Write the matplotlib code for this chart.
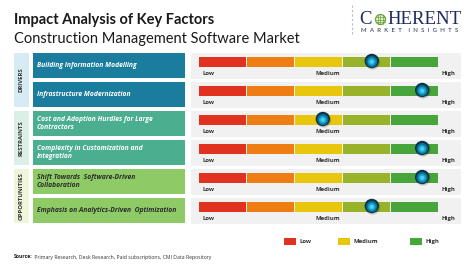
import matplotlib
matplotlib.use("Agg")
import matplotlib.pyplot as plt
from matplotlib.patches import Rectangle, Circle

# ---------------- data ----------------
factors = [
    "Building Information Modelling",
    "Infrastructure Modernization",
    "Cost and Adoption Hurdles for Large\nContractors",
    "Complexity in Customization and\nIntegration",
    "Shift Towards  Software-Driven\nCollaboration",
    "Emphasis on Analytics-Driven  Optimization",
]
groups = ["DRIVERS", "DRIVERS", "RESTRAINTS", "RESTRAINTS", "OPPORTUNITIES", "OPPORTUNITIES"]
impact = [3.6, 4.65, 2.58, 4.65, 4.65, 3.6]          # position on 0..5 scale
scale_labels = ["Low", "Medium", "High"]
legend_labels = ["Low", "Medium", "High"]

group_names = ["DRIVERS", "RESTRAINTS", "OPPORTUNITIES"]
group_row_color = {"DRIVERS": "#1b7d9e", "RESTRAINTS": "#4aae8f", "OPPORTUNITIES": "#8ecb66"}
group_bg_color = {"DRIVERS": "#d7ebf5", "RESTRAINTS": "#dcefe6", "OPPORTUNITIES": "#eef5da"}
group_text_color = {"DRIVERS": "white", "RESTRAINTS": "white", "OPPORTUNITIES": "#2b2b2b"}
seg_colors = ["#e0321f", "#ee7d14", "#e8c60e", "#98b32a", "#47a53c"]
legend_colors = ["#e0321f", "#e8c60e", "#47a53c"]

W, H = 474, 266
fig = plt.figure(figsize=(W / 100, H / 100), dpi=100)
ax = fig.add_axes([0, 0, 1, 1])
ax.set_xlim(0, W)
ax.set_ylim(H, 0)
ax.axis("off")
fig.patch.set_facecolor("white")

FONT = "Lato"

# titles
ax.text(14, 20, "Impact Analysis of Key Factors", fontsize=10.5, fontweight="bold",
        family=FONT, color="#1a1a1a", va="center", ha="left")
ax.text(14, 39.5, "Construction Management Software Market", fontsize=10.5,
        family=FONT, color="#1a1a1a", va="center", ha="left")

# logo
ax.plot([352, 352], [5, 36], color="#bbbbbb", lw=0.8, ls=(0, (2, 2)))
ax.text(359, 20, "C", fontsize=13.5, family="Liberation Serif", color="#1f2a5a",
        va="center", ha="left")
cx, cy, r = 380.5, 19.5, 5.0
ax.add_patch(Circle((cx, cy), r, facecolor="#e8f0d8", edgecolor="#6aa33a", lw=0.9))
for d in (-2.4, 0, 2.4):
    ax.plot([cx + d, cx + d], [cy - 4.4, cy + 4.4], color="#6aa33a", lw=0.5)
    ax.plot([cx - 4.4, cx + 4.4], [cy + d, cy + d], color="#6aa33a", lw=0.5)
ax.text(387, 20, "HERENT", fontsize=13.5, family="Liberation Serif", color="#1f2a5a",
        va="center", ha="left")
ax.text(361, 31, "M  A  R  K  E  T    I  N  S  I  G  H  T  S", fontsize=4.4, family=FONT,
        color="#1f2a5a", va="center", ha="left")

row_top0, row_step, row_h = 53, 29, 25
bar_x0, bar_x1 = 199, 439
seg_w = (bar_x1 - bar_x0) / 5

for i, (fac, grp, val) in enumerate(zip(factors, groups, impact)):
    top = row_top0 + i * row_step
    # factor box
    ax.add_patch(Rectangle((33, top), 152, row_h, facecolor=group_row_color[grp], edgecolor="none"))
    ax.text(37, top + row_h / 2, fac, fontsize=4.85, fontweight="bold", style="italic",
            family="Open Sans", color=group_text_color[grp], va="center", ha="left",
            linespacing=1.2)
    # gauge panel
    ax.add_patch(Rectangle((191, top), 270, row_h + 0.5, facecolor="#f1f1f1", edgecolor="none"))
    for k, c in enumerate(seg_colors):
        ax.add_patch(Rectangle((bar_x0 + k * seg_w, top + 4), seg_w - 0.6, 10,
                               facecolor=c, edgecolor="none"))
    ax.text(203, top + 20.5, scale_labels[0], fontsize=4.3, fontweight="bold", family="Open Sans",
            color="#333333", va="center", ha="left")
    ax.text(328, top + 20.5, scale_labels[1], fontsize=4.3, fontweight="bold", family="Open Sans",
            color="#333333", va="center", ha="center")
    ax.text(448, top + 20.5, scale_labels[2], fontsize=4.3, fontweight="bold", family="Open Sans",
            color="#333333", va="center", ha="center")
    # marker sphere
    mx = bar_x0 + val * seg_w
    my = top + 8
    ax.add_patch(Circle((mx + 0.8, my + 1.0), 7.6, facecolor="#000000", alpha=0.18, edgecolor="none"))
    ax.add_patch(Circle((mx, my), 7.2, facecolor="#0b3348", edgecolor="none"))
    ax.add_patch(Circle((mx, my + 0.6), 5.6, facecolor="#0d6f94", edgecolor="none"))
    ax.add_patch(Circle((mx, my + 0.8), 3.8, facecolor="#19a9d6", edgecolor="none"))
    ax.add_patch(Circle((mx, my + 0.8), 2.0, facecolor="#4fd0f2", edgecolor="none"))

# group label boxes
for g_i, g in enumerate(group_names):
    top = row_top0 + 2 * g_i * row_step
    h = row_step + row_h
    ax.add_patch(Rectangle((14, top), 15, h, facecolor=group_bg_color[g], edgecolor="none"))
    ax.text(21.5, top + h / 2, g, fontsize=4.3, fontweight="bold", family="Open Sans",
            color="#333333", rotation=90, va="center", ha="center")

# legend
leg_x = [284, 338, 410]
for x, c, lab in zip(leg_x, legend_colors, legend_labels):
    ax.add_patch(Rectangle((x, 238), 12, 7, facecolor=c, edgecolor="none"))
    ax.text(x + 16, 241.5, lab, fontsize=4.3, fontweight="bold", family="Open Sans",
            color="#333333", va="center", ha="left")

# source
t1 = ax.text(14, 257, "Source:", fontsize=3.7, fontweight="bold", family="Open Sans",
             color="#1a1a1a", va="center", ha="left")
ax.annotate(" Primary Research, Desk Research, Paid subscriptions, CMI Data Repository",
            xy=(1, 0.5), xycoords=t1, fontsize=3.7, family="Open Sans", color="#333333",
            va="center", ha="left")

fig.savefig("out.png", dpi=100)
